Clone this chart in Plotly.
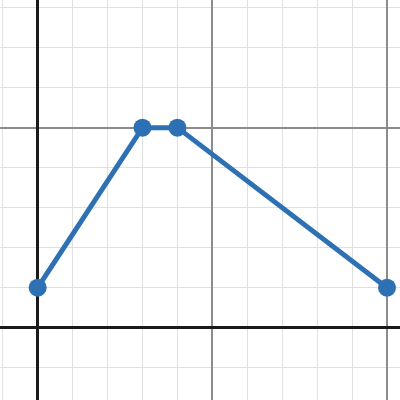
import plotly.graph_objects as go

# points of the polyline
xs = [0, 3, 4, 10]
ys = [1, 5, 5, 1]

fig = go.Figure(go.Scatter(
    x=xs, y=ys,
    mode="lines+markers",
    line=dict(color="#2d70b3", width=5),
    marker=dict(color="#2d70b3", size=18),
    cliponaxis=False,
))

axis_style = dict(
    dtick=5,
    tick0=0,
    showgrid=True,
    gridcolor="#8c8c8c",
    gridwidth=1.5,
    zeroline=True,
    zerolinecolor="#1a1a1a",
    zerolinewidth=2.5,
    showticklabels=False,
    ticks="",
    showline=False,
    minor=dict(dtick=1, tick0=0, showgrid=True, gridcolor="#e0e0e0", gridwidth=1.3),
)

fig.update_xaxes(range=[-1.079, 10.372], **axis_style)
fig.update_yaxes(range=[-1.808, 8.19], **axis_style)

fig.update_layout(
    width=400, height=400,
    margin=dict(l=0, r=0, t=0, b=0),
    plot_bgcolor="white",
    paper_bgcolor="white",
    showlegend=False,
)

# drop the page's default body margin so the chart sits at the corner
fig.write_html("out.html", config={"displayModeBar": False},
               post_script="document.body.style.margin='0';")
